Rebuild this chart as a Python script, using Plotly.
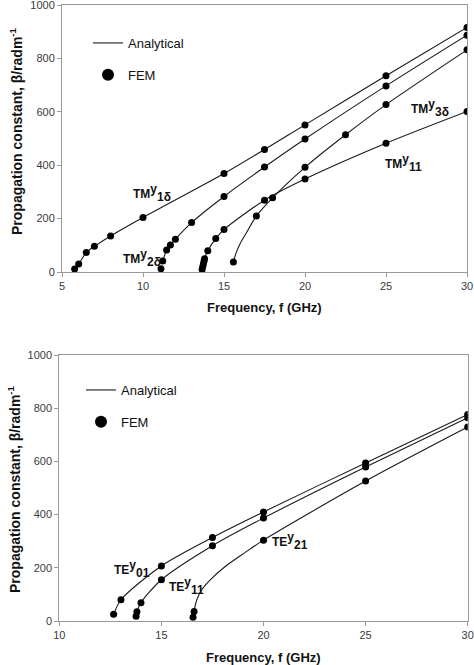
import plotly.graph_objects as go

# ================= FEM points =================
# ---- Top panel (TM modes) ----
tm1d_f = [5.78, 6.03, 6.5, 7.0, 8.0, 10.0, 15.0, 17.5, 20.0, 25.0, 30.0]
tm1d_b = [11, 30, 73, 96, 135, 204, 369, 459, 551, 735, 916]
tm2d_f = [11.11, 11.22, 11.46, 11.69, 12.0, 13.0, 15.0, 17.5, 20.0, 25.0, 30.0]
tm2d_b = [12, 41, 82, 101, 123, 185, 283, 393, 498, 697, 887]
tm11_f = [13.65, 13.69, 13.73, 13.77, 13.80, 14.0, 14.49, 15.0, 17.5, 20.0, 25.0, 30.0]
tm11_b = [9, 21, 31, 41, 50, 80, 125, 159, 269, 348, 482, 601]
tm3d_f = [15.58, 17.0, 18.0, 20.0, 22.5, 25.0, 30.0]
tm3d_b = [37, 210, 278, 392, 514, 627, 832]

# ---- Bottom panel (TE modes) ----
te01_f = [12.66, 13.02, 15.0, 17.5, 20.0, 25.0, 30.0]
te01_b = [25, 80, 207, 314, 410, 594, 776]
te11_f = [13.76, 13.8, 14.0, 15.0, 17.5, 20.0, 25.0, 30.0]
te11_b = [18, 35, 69, 155, 283, 387, 579, 764]
te21_f = [16.55, 16.6, 20.0, 25.0, 30.0]
te21_b = [14, 36, 304, 526, 729]

# ================= Analytical curves =================
a_tm1d_f = [5.78, 6.03, 6.5, 7.0, 8.0, 10.0, 15.0, 17.5, 20.0, 25.0, 30.0]
a_tm1d_b = [11, 30, 73, 96, 135, 204, 369, 459, 551, 735, 916]
a_tm2d_f = [11.22, 11.46, 11.69, 12.0, 13.0, 15.0, 17.5, 20.0, 25.0, 30.0]
a_tm2d_b = [41, 82, 101, 123, 185, 283, 393, 498, 697, 887]
a_tm11_f = [13.65, 13.73, 13.80, 14.0, 14.49, 15.0, 17.5, 20.0, 25.0, 30.0]
a_tm11_b = [9, 31, 50, 80, 125, 159, 269, 348, 482, 601]
a_tm3d_f = [15.58, 15.73, 16.0, 16.41, 17.0, 18.0, 20.0, 22.5, 25.0, 30.0]
a_tm3d_b = [37, 69, 107, 150, 210, 278, 392, 514, 627, 832]

a_te01_f = [12.66, 13.02, 15.0, 17.5, 20.0, 25.0, 30.0]
a_te01_b = [25, 80, 207, 314, 410, 594, 776]
a_te11_f = [13.8, 14.0, 15.0, 17.5, 20.0, 25.0, 30.0]
a_te11_b = [35, 69, 155, 283, 387, 579, 764]
a_te21_f = [16.61, 16.73, 16.97, 17.38, 18.11, 19.09, 20.0, 25.0, 30.0]
a_te21_b = [41, 79, 117, 154, 204, 257, 304, 526, 729]

top_mode = ["TM", "TM", "TM", "TM"]
top_sub = ["1δ", "2δ", "3δ", "11"]
top_label_pos = [(10.55, 295), (9.94, 51), (27.7, 613), (26.1, 407)]
bot_mode = ["TE", "TE", "TE"]
bot_sub = ["01", "11", "21"]
bot_label_pos = [(13.58, 197), (16.25, 133), (21.3, 302)]

y_ticks = [0, 200, 400, 600, 800, 1000]
x_ticks_top = [5, 10, 15, 20, 25, 30]
x_ticks_bot = [10, 15, 20, 25, 30]

FONT = "Liberation Sans, Arial, sans-serif"
LINE_C = "#1a1a1a"
AX_C = "#9a9a9a"

fig = go.Figure()

def add_line(f, b, xa, ya):
    fig.add_trace(go.Scatter(x=f, y=b, mode="lines", xaxis=xa, yaxis=ya,
                             line=dict(color=LINE_C, width=1.1, shape="spline", smoothing=0.8),
                             showlegend=False, hoverinfo="skip"))

def add_pts(f, b, xa, ya):
    fig.add_trace(go.Scatter(x=f, y=b, mode="markers", xaxis=xa, yaxis=ya,
                             marker=dict(color="black", size=7), showlegend=False))

for f, b in [(a_tm1d_f, a_tm1d_b), (a_tm2d_f, a_tm2d_b), (a_tm11_f, a_tm11_b), (a_tm3d_f, a_tm3d_b)]:
    add_line(f, b, "x", "y")
for f, b in [(tm1d_f, tm1d_b), (tm2d_f, tm2d_b), (tm11_f, tm11_b), (tm3d_f, tm3d_b)]:
    add_pts(f, b, "x", "y")
for f, b in [(a_te01_f, a_te01_b), (a_te11_f, a_te11_b), (a_te21_f, a_te21_b)]:
    add_line(f, b, "x2", "y2")
for f, b in [(te01_f, te01_b), (te11_f, te11_b), (te21_f, te21_b)]:
    add_pts(f, b, "x2", "y2")

# legend entries
for lg, xa, ya in [("legend", "x", "y"), ("legend2", "x2", "y2")]:
    fig.add_trace(go.Scatter(x=[None], y=[None], mode="lines", name="Analytical",
                             xaxis=xa, yaxis=ya, legend=lg, legendgroup="a" + lg,
                             line=dict(color=LINE_C, width=1.1)))
    fig.add_trace(go.Scatter(x=[None], y=[None], mode="markers", name="FEM",
                             xaxis=xa, yaxis=ya, legend=lg, legendgroup="b" + lg,
                             marker=dict(color="black", size=12)))

ax_common = dict(showline=True, linecolor=AX_C, linewidth=1, mirror=True,
                 ticks="outside", ticklen=4, tickcolor=AX_C, showgrid=False,
                 zeroline=False, tickfont=dict(family=FONT, size=11, color="#3a3a3a"),
                 automargin=False, ticklabeloverflow="allow")

fig.update_layout(
    width=474, height=665,
    margin=dict(l=0, r=0, t=0, b=0),
    paper_bgcolor="white", plot_bgcolor="white",
    font=dict(family=FONT, color="#111"),
    xaxis=dict(domain=[62/474, 467/474], range=[5, 30], tickvals=x_ticks_top, anchor="y", **ax_common),
    yaxis=dict(domain=[(665-272)/665, (665-5)/665], range=[0, 1000], tickvals=y_ticks, anchor="x", **ax_common),
    xaxis2=dict(domain=[59.3/474, 467.7/474], range=[10, 30], tickvals=x_ticks_bot, anchor="y2", **ax_common),
    yaxis2=dict(domain=[(665-621)/665, (665-355)/665], range=[0, 1000], tickvals=y_ticks, anchor="x2", **ax_common),
    legend=dict(x=88/474, y=1-28/665, xanchor="left", yanchor="top", bgcolor="rgba(0,0,0,0)",
                font=dict(family=FONT, size=13, color="#111"), tracegroupgap=12, itemsizing="trace"),
    legend2=dict(x=81/474, y=1-375/665, xanchor="left", yanchor="top", bgcolor="rgba(0,0,0,0)",
                 font=dict(family=FONT, size=13, color="#111"), tracegroupgap=12, itemsizing="trace"),
)

def mode_label(m, s):
    return ("<b>%s<sup><span style='font-size:12px'>y</span></sup>"
            "<sub><span style='font-size:12px'>%s</span></sub></b>" % (m, s))

for m, s, (x, y) in zip(top_mode, top_sub, top_label_pos):
    fig.add_annotation(x=x, y=y, xref="x", yref="y", text=mode_label(m, s), showarrow=False,
                       xanchor="center", yanchor="middle",
                       font=dict(family=FONT, size=12, color="#111"))
for m, s, (x, y) in zip(bot_mode, bot_sub, bot_label_pos):
    fig.add_annotation(x=x, y=y, xref="x2", yref="y2", text=mode_label(m, s), showarrow=False,
                       xanchor="center", yanchor="middle",
                       font=dict(family=FONT, size=12, color="#111"))

ytitle = "<b>Propagation constant, β/radm<sup>-1</sup></b>"
xtitle = "<b>Frequency, f (GHz)</b>"
for x, y in [(16, 131), (14, 489)]:
    fig.add_annotation(x=x/474, y=(665-y)/665, xref="paper", yref="paper", text=ytitle, textangle=-90,
                       xanchor="center", yanchor="middle",
                       showarrow=False, font=dict(family=FONT, size=14, color="#111"))
for x, y in [(264, 307), (263, 657)]:
    fig.add_annotation(x=x/474, y=(665-y)/665, xref="paper", yref="paper", text=xtitle,
                       xanchor="center", yanchor="middle",
                       showarrow=False, font=dict(family=FONT, size=13, color="#111"))

fig.write_html("out.html", config={"displayModeBar": False},
               post_script="document.body.style.margin='0';")
